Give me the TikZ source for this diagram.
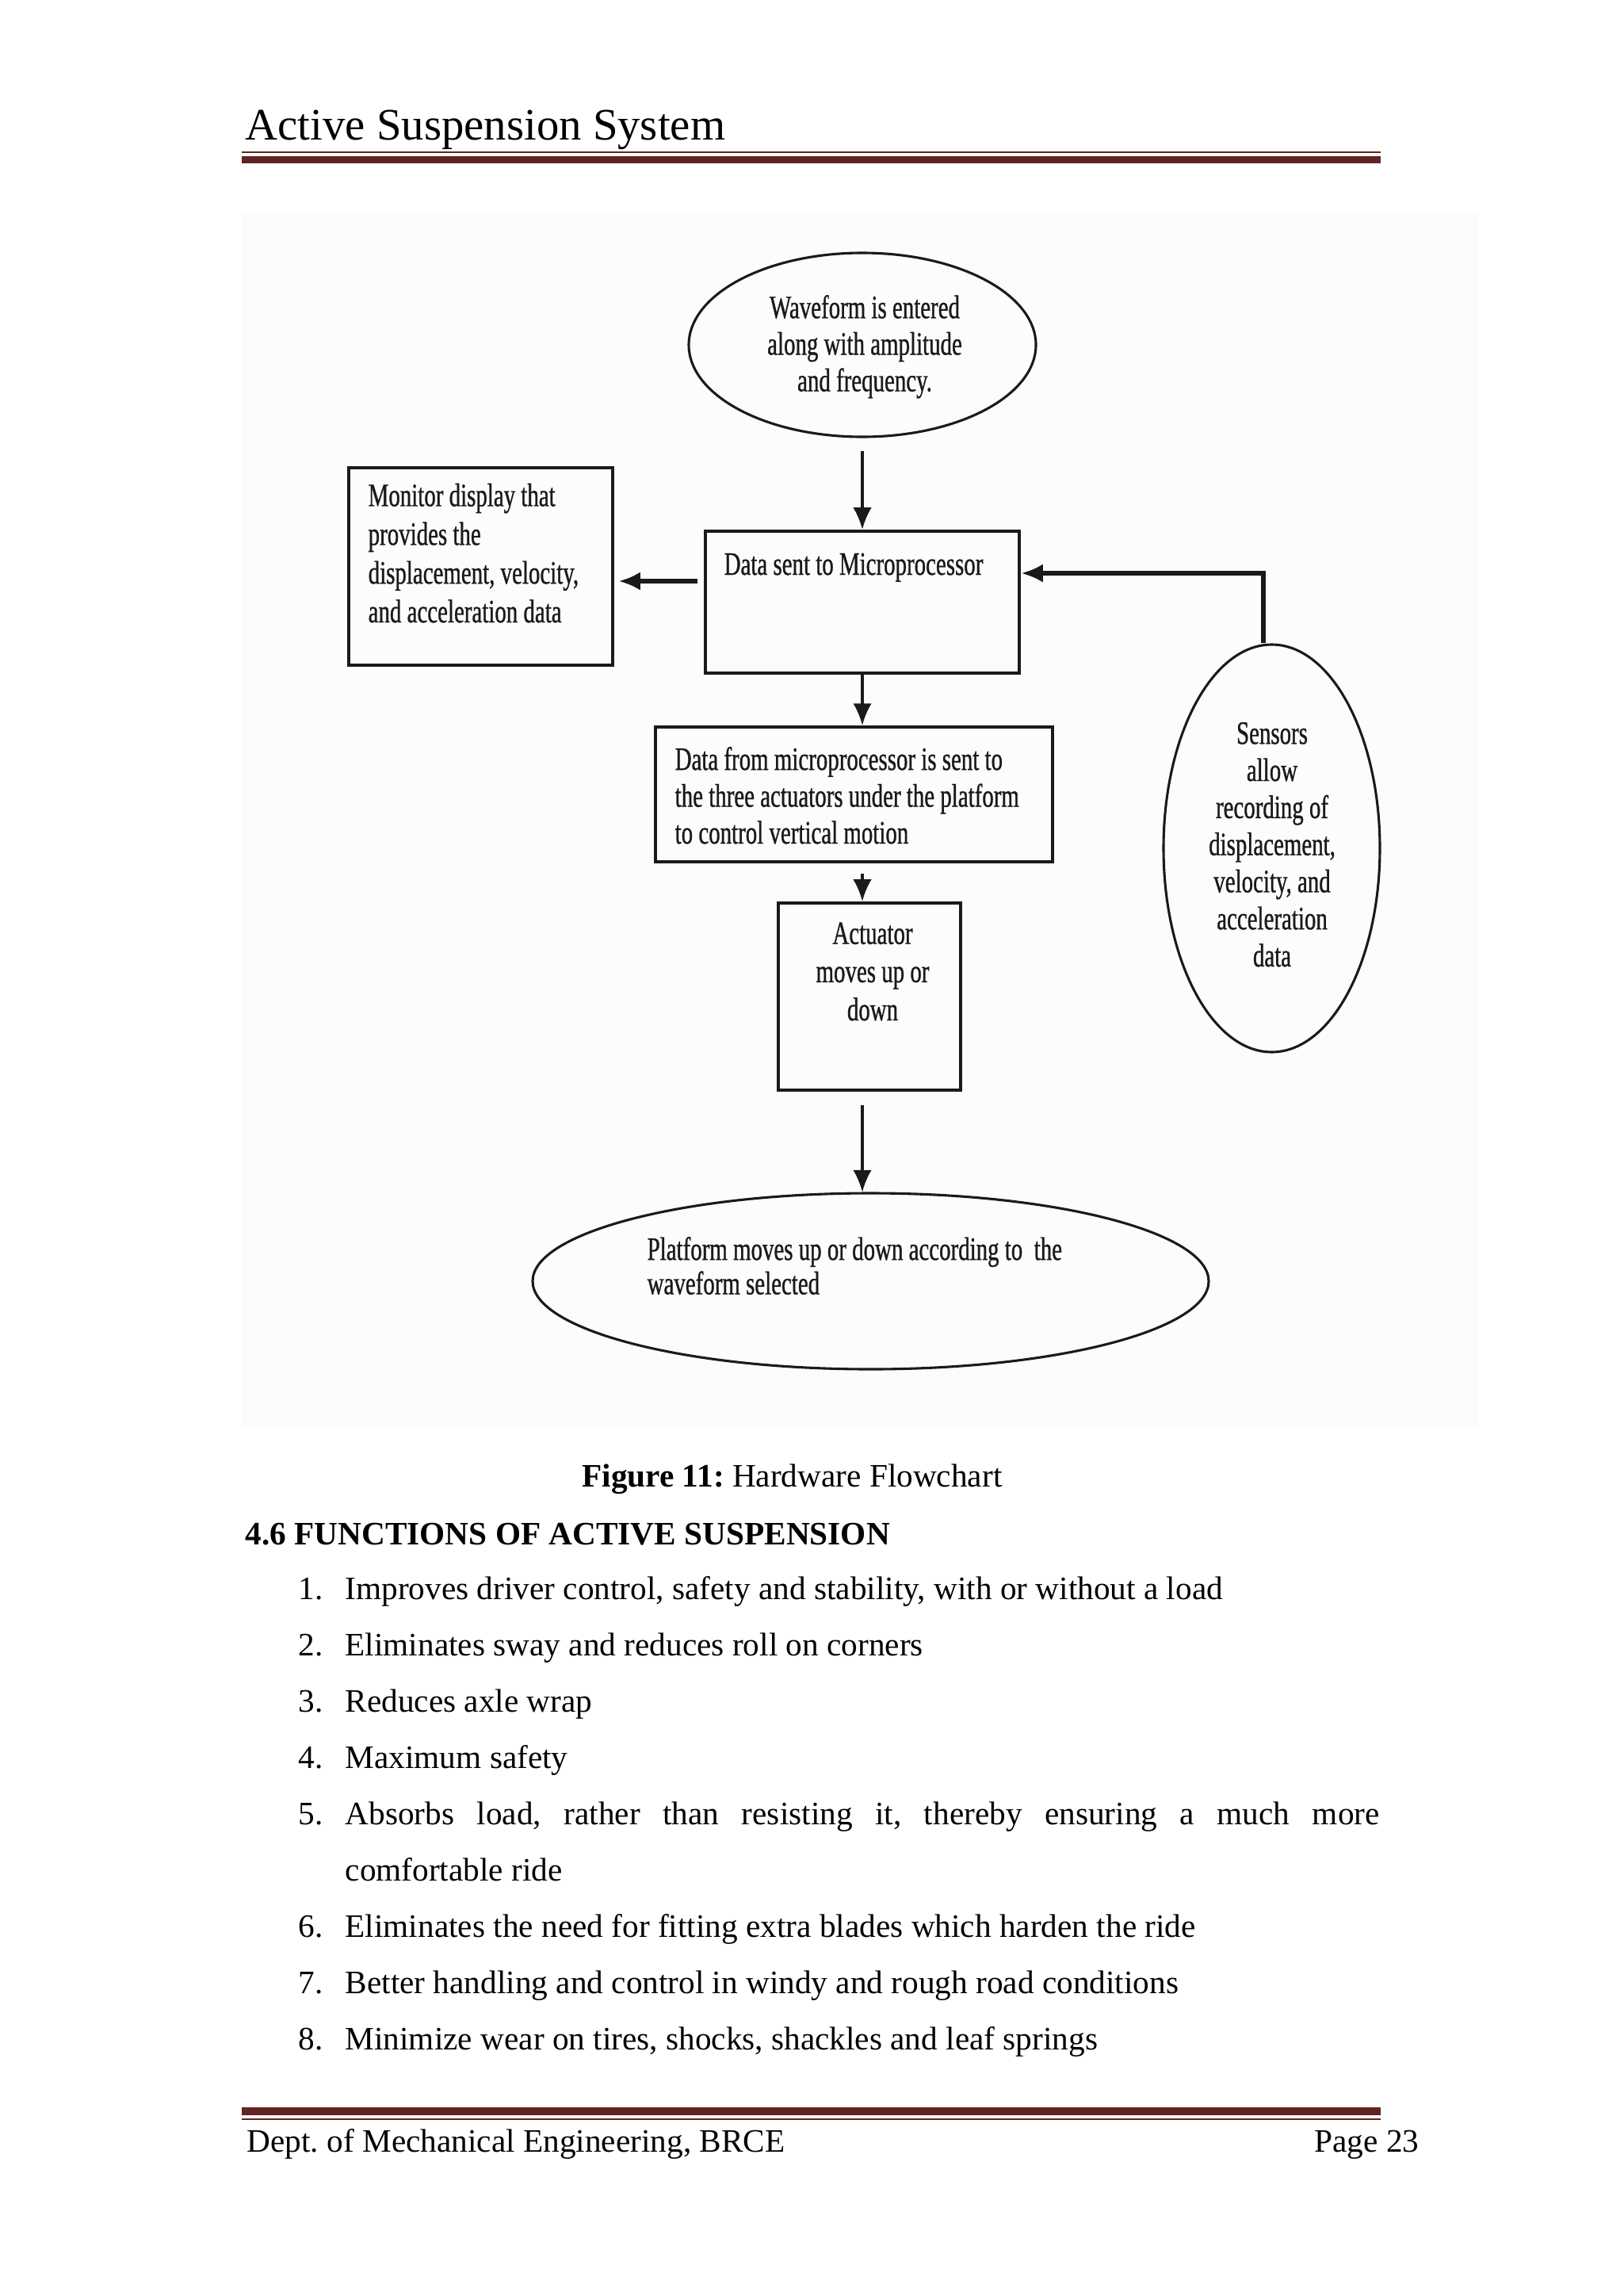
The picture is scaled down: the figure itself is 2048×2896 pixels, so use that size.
\documentclass[tikz,border=0pt]{standalone}
\usepackage{fontspec}
\setmainfont{Liberation Serif}
\newfontfamily\chartfont[FakeStretch=0.70,FakeBold=0.8]{Liberation Serif}
\usetikzlibrary{arrows.meta,shapes.geometric}
\definecolor{hdr}{HTML}{622423}
\definecolor{ink}{HTML}{1A1A1A}
\frenchspacing
\begin{document}
\begin{tikzpicture}[x=0.29067pt,y=-0.29067pt,
  box/.style={draw=ink, line width=1.3pt, rectangle, inner sep=0pt},
  oval/.style={draw=ink, line width=0.9pt, ellipse, inner sep=0pt},
  ctext/.style={font=\chartfont\fontsize{12}{13.5}\selectfont, text=ink, inner sep=0pt},
  arr/.style={draw=ink, line width=0.9pt, -{Latex[length=8pt,width=6.8pt]}},
  harr/.style={arr, line width=1.8pt},
  body/.style={font=\fontsize{12}{14}\selectfont, inner sep=0pt, anchor=base west},
  hf/.style={inner sep=0pt},
]
\useasboundingbox (0,0) rectangle (2048,2896);
\fill[white] (0,0) rectangle (2048,2896);

% header
\node[hf, anchor=base west, font=\fontsize{16.5}{18}\selectfont] (hdrtext) at (309,176) {Active Suspension System};
\draw[hdr, line width=0.73pt] (305,192) -- (1742,192);
\draw[hdr, line width=2.6pt] (305,201.5) -- (1742,201.5);

% figure background
\fill[black!1.2] (305,268) rectangle (1865,1800);

% shapes
\node[oval, minimum width=127.31pt, minimum height=67.44pt] (wave) at (1088,435) {};
\node[box, minimum width=96.79pt, minimum height=72.38pt] (monitor) at (606.5,714.5) {};
\node[box, minimum width=115.11pt, minimum height=52.03pt] (datasent) at (1088,759.5) {};
\node[box, minimum width=145.63pt, minimum height=49.41pt] (datafrom) at (1077.5,1002) {};
\node[box, minimum width=66.85pt, minimum height=68.60pt] (actuator) at (1097,1257) {};
\node[oval, minimum width=79.35pt, minimum height=149.40pt] (sensors) at (1604.5,1070) {};
\node[oval, minimum width=247.94pt, minimum height=64.53pt] (platform) at (1098.5,1616) {};

% texts (base anchor = baseline of the last line)
\node[ctext, anchor=base, align=center, font=\chartfont\fontsize{12}{13.4}\selectfont] (t-wave) at (1091,493.5)
  {Waveform is entered\\along with amplitude\\and frequency.};
\node[ctext, anchor=base west, align=left, font=\chartfont\fontsize{12}{14.2}\selectfont] (t-monitor) at (464,785)
  {Monitor display that\\provides the\\displacement, velocity,\\and acceleration data};
\node[ctext, anchor=base west] (t-datasent) at (913,725) {Data sent to Microprocessor};
\node[ctext, anchor=base west, align=left] (t-datafrom) at (851,1064)
  {Data from microprocessor is sent to\\the three actuators under the platform\\to control vertical motion};
\node[ctext, anchor=base, align=center, font=\chartfont\fontsize{12}{14}\selectfont] (t-actuator) at (1101,1287)
  {Actuator\\moves up or\\down};
\node[ctext, anchor=base, align=center, font=\chartfont\fontsize{12}{13.6}\selectfont] (t-sensors) at (1605,1219)
  {Sensors\\allow\\recording of\\displacement,\\velocity, and\\acceleration\\data};
\node[ctext, anchor=base west, align=left, font=\chartfont\fontsize{12}{12.6}\selectfont] (t-platform) at (816,1632.5)
  {Platform moves up or down according to~ the\\waveform selected};

% connectors
\draw[arr, shorten <=4.9pt] (wave.south) -- (datasent.north);
\draw[harr, shorten <=2.3pt, shorten >=1.5pt] ([yshift=7.7pt]datasent.west) -- ([yshift=7.7pt]datasent.west -| monitor.east);
\draw[harr, line width=1.6pt] ([xshift=-3pt]sensors.north) |- ([yshift=10.6pt]datasent.east);
\draw[arr] (datasent.south) -- (datasent.south |- datafrom.north);
\draw[arr, shorten <=3.8pt] (datasent.south |- datafrom.south) -- (datasent.south |- actuator.north);
\draw[arr, shorten <=4.9pt] (datasent.south |- actuator.south) -- (datasent.south |- platform.north);

% caption and list
\node[hf, anchor=base, font=\fontsize{12}{14}\selectfont] (caption) at (999.5,1875) {\textbf{Figure 11:} Hardware Flowchart};
\node[body, font=\fontsize{12}{14}\selectfont\bfseries] (heading) at (309,1948) {4.6 FUNCTIONS OF ACTIVE SUSPENSION};

\node[body] (n1) at (376,2017) {1.};
\node[body] (i1) at (435,2017) {Improves driver control, safety and stability, with or without a load};
\node[body] (n2) at (376,2088) {2.};
\node[body] (i2) at (435,2088) {Eliminates sway and reduces roll on corners};
\node[body] (n3) at (376,2159) {3.};
\node[body] (i3) at (435,2159) {Reduces axle wrap};
\node[body] (n4) at (376,2230) {4.};
\node[body] (i4) at (435,2230) {Maximum safety};
\node[body] (n5) at (376,2301) {5.};
\node[body] (i5) at (435,2301) {\makebox[379.3pt][s]{Absorbs load, rather than resisting it, thereby ensuring a much more}};
\node[body] (i5b) at (435,2372) {comfortable ride};
\node[body] (n6) at (376,2443) {6.};
\node[body] (i6) at (435,2443) {Eliminates the need for fitting extra blades which harden the ride};
\node[body] (n7) at (376,2514) {7.};
\node[body] (i7) at (435,2514) {Better handling and control in windy and rough road conditions};
\node[body] (n8) at (376,2585) {8.};
\node[body] (i8) at (435,2585) {Minimize wear on tires, shocks, shackles and leaf springs};

% footer
\draw[hdr, line width=2.9pt] (305,2663) -- (1742,2663);
\draw[hdr, line width=0.6pt] (305,2672.5) -- (1742,2672.5);
\node[hf, anchor=base west, font=\fontsize{12}{14}\selectfont] (foot) at (311,2714) {Dept. of Mechanical Engineering, BRCE};
\node[hf, anchor=base east, font=\fontsize{12}{14}\selectfont] (page) at (1791,2714) {Page 23};
\end{tikzpicture}
\end{document}
